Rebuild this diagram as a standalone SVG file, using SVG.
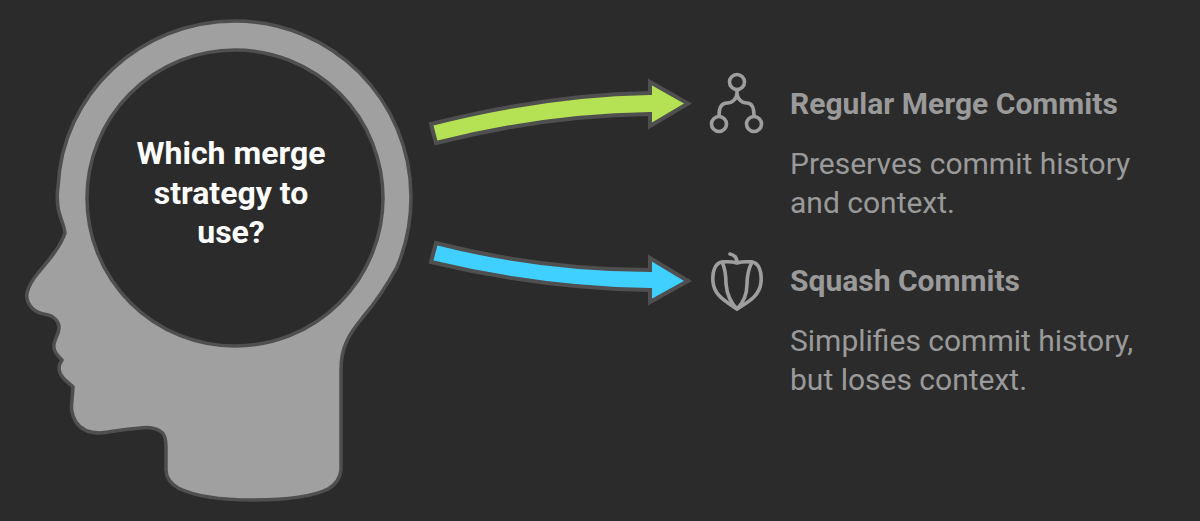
<svg xmlns="http://www.w3.org/2000/svg" width="1200" height="521" viewBox="0 0 1200 521">
<style>
.head{fill:#a0a0a0;stroke:#4f4f4f;stroke-width:3.5;stroke-linejoin:round}
.hole{fill:#2b2b2b;stroke:#4f4f4f;stroke-width:3.5}
.arrow{stroke:#4f4f4f;stroke-width:4;stroke-linejoin:miter}
.icon{fill:none;stroke:#9e9e9e;stroke-width:3.6;stroke-linecap:round;stroke-linejoin:round}
text{font-family:Roboto,"Liberation Sans",sans-serif}
.q{fill:#fff;font-weight:700;font-size:32px;text-anchor:middle}
.t{fill:#9a9a9a;font-weight:700;font-size:30px}
.d{fill:#9a9a9a;font-size:30px}
</style>
<rect width="1200" height="521" fill="#2b2b2b"/>
<g id="head">
<path class="head" d="M235 21C332 21 411 100 411 197C411 222 406 246 397 267C386 287 375 303 363 317C354 328 349 335 346 343C342 352 341 360 341 370L341 470C340 480 335 485 328 489C312 497 285 500 253 500C225 500 196 497 178 488C170 483 166 477 166 470L166 447C166 438 164 433 160 431C155 428 148 427 140 428C125 429 112 432 100 433C90 433 81 430 76 422C71 414 71 408 72 400L73 387C68 382 63 380 60 373C58 368 59 364 62 360C56 354 53 350 54 344C55 338 59 334 59 327C59 321 53 316 48 315C42 314 37 313 33 309C28 304 26 298 27 293C29 285 33 279 38 273C47 262 60 248 65 233C64 224 59 216 58 207C57 200 57 193 58 187C62 94 140 21 235 21Z"/>
<circle class="hole" cx="235" cy="198" r="148"/>
<text class="q" x="231" y="164">Which merge</text>
<text class="q" x="231" y="204">strategy to</text>
<text class="q" x="231" y="243">use?</text>
</g>
<g id="connectors">
<path class="arrow" fill="#b5e254" d="M431 124C510 104 580 94 650 93L650 82L688 103.500L650 126L650 114C580 115 510 124 436 143Z"/>
<path class="arrow" fill="#3fd0ff" d="M436 243C510 262 580 270 650 270L650 258L688 281L650 302L650 290C580 289 510 281 431 262Z"/>
</g>
<g id="regular-merge-commits">
<g class="icon">
<circle cx="737" cy="82" r="7.500"/><circle cx="719" cy="124" r="7.500"/><circle cx="754" cy="124" r="7.500"/>
<path d="M737 90V93C737 99 732 103 727 103C721 103 719 108 719 116M737 93C737 99 742 103 747 103C752 103 754 108 754 116"/>
</g>
<text class="t" x="790" y="114">Regular Merge Commits</text>
<text class="d" x="790" y="174">Preserves commit history</text>
<text class="d" x="790" y="213">and context.</text>
</g>
<g id="squash-commits">
<g class="icon">
<path d="M730 254C735 255 737 258 737 263M737 263C744 261 750 262 752 262C759 263 762 272 761 282C760 295 750 301 737 309C725 301 714 295 713 282C712 272 715 263 722 262C725 262 730 261 737 263Z"/>
<path d="M722 262C725 268 726 275 726 284C727 295 732 304 737 309C742 304 747 295 747 284C747 275 749 268 752 262"/>
</g>
<text class="t" x="790" y="291">Squash Commits</text>
<text class="d" x="790" y="351">Simplifies commit history,</text>
<text class="d" x="790" y="390">but loses context.</text>
</g>
</svg>
